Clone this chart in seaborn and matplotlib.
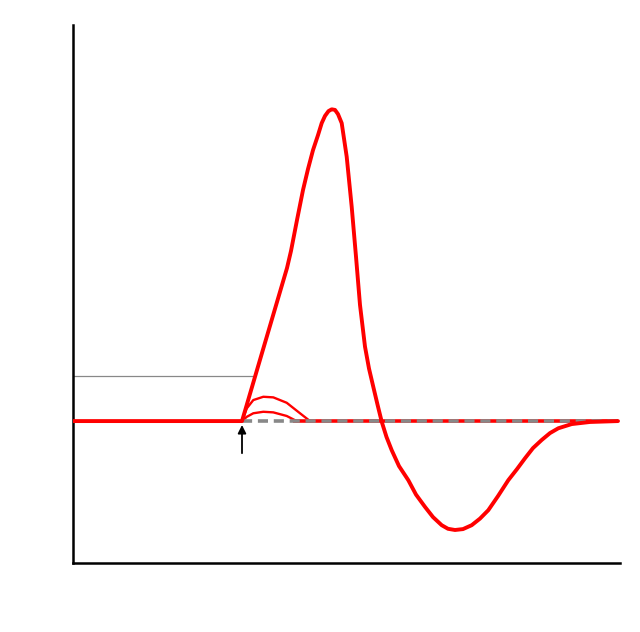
import numpy as np
import pandas as pd
import matplotlib
matplotlib.use("Agg")
import matplotlib.pyplot as plt
import seaborn as sns

# action potential trace (time in ms, voltage in mV)
ap_time = [0.0, 1.69, 1.89, 2.14, 2.18, 2.24, 2.30, 2.35, 2.40, 2.45, 2.487,
           2.52, 2.555, 2.587, 2.62, 2.65, 2.687, 2.737, 2.787, 2.83,
           2.87, 2.92, 2.96, 3.003, 3.045, 3.087, 3.135, 3.187, 3.26, 3.353,
           3.43, 3.52, 3.60, 3.687, 3.75, 3.82, 3.90, 3.987, 4.07,
           4.153, 4.25, 4.353, 4.44, 4.52, 4.60, 4.687, 4.77, 4.853, 4.987,
           5.17, 5.45]
ap_volt = [-70, -70, -47.3, -19, -13.3, -3, 7, 14, 20.3, 25.3, 29.3,
           31.7, 33.3, 33.9, 33.7, 32.3, 29.3, 18.1, 1.4, -15.2,
           -31.3, -45.2, -52.5, -58.6, -64.5, -70.2, -75.3, -79.7, -85, -89.7,
           -94.5, -98.6, -102, -104.7, -105.9, -106.3, -106, -104.7, -102.5,
           -99.7, -95, -89.7, -86, -82.4, -79, -76.3, -74, -72.4, -71,
           -70.3, -70]

# failed initiations (sub-threshold bumps)
fail1_time = [1.69, 1.737, 1.803, 1.903, 2.003, 2.137, 2.27, 2.37]
fail1_volt = [-70, -65.8, -63, -61.9, -62.1, -63.9, -67.4, -70]
fail2_time = [1.69, 1.737, 1.803, 1.903, 2.003, 2.137, 2.237]
fail2_volt = [-70, -68.6, -67.4, -66.9, -67.1, -68.3, -70]

rest_v = -70
threshold_v = -55
stim_t = 1.69
t_end = 5.45

sns.set_style("white")
fig = plt.figure(figsize=(6.4, 6.32), dpi=100)
ax = fig.add_axes([73 / 640, 69 / 632, 547 / 640, 538 / 632])

# threshold
ax.plot([0, 1.80], [threshold_v, threshold_v], color="#888888", lw=0.9, zorder=1)

# return to rest after failed initiations
ax.plot([2.2, t_end], [rest_v, rest_v], color="red", lw=2.6, zorder=2,
        solid_capstyle="butt")
sns.lineplot(x=fail1_time, y=fail1_volt, color="red", lw=1.7, ax=ax, zorder=3,
             solid_joinstyle="round")
sns.lineplot(x=fail2_time, y=fail2_volt, color="red", lw=1.7, ax=ax, zorder=3,
             solid_joinstyle="round")

# resting potential (dashed) on top
ax.plot([stim_t, t_end], [rest_v, rest_v], color="#888888", lw=2.6,
        dashes=(2.8, 1.6), zorder=4)

df = pd.DataFrame({"t": ap_time, "v": ap_volt})
sns.lineplot(data=df, x="t", y="v", color="red", lw=2.8, ax=ax, zorder=5,
             solid_joinstyle="round")

# stimulus arrow
ax.annotate("", xy=(stim_t, -71.3), xytext=(stim_t, -80.7),
            arrowprops=dict(arrowstyle="-|>", color="black", lw=1.3,
                            mutation_scale=12, shrinkA=0, shrinkB=0))

ax.set_xlim(0, 5.47)
ax.set_ylim(-117.3, 62)
ax.set_xticks([])
ax.set_yticks([])
ax.set_xlabel("")
ax.set_ylabel("")
for s in ["top", "right"]:
    ax.spines[s].set_visible(False)
for s in ["left", "bottom"]:
    ax.spines[s].set_color("black")
    ax.spines[s].set_linewidth(1.8)

fig.savefig("out.png", dpi=100)
